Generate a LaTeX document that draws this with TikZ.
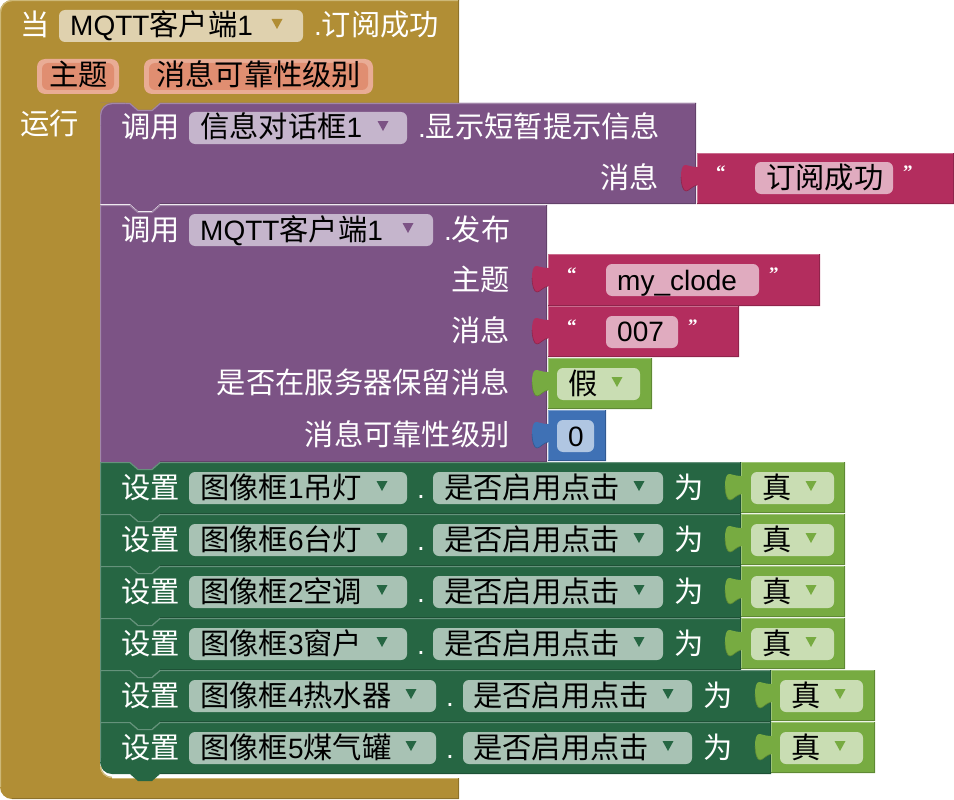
\documentclass[tikz,border=0pt]{standalone}
\usepackage{fontspec}
\setmainfont{Liberation Sans}
\newfontfamily\cjk[Scale=1.046]{Noto Sans CJK SC}
\newfontfamily\quotefont[BoldFont=*]{Liberation Serif Bold}
\newcommand{\zh}[1]{{\cjk #1}}

\definecolor{bronze}{HTML}{B18E35}
\definecolor{bronzelt}{HTML}{CDB877}
\definecolor{bronzedk}{HTML}{8E722A}
\definecolor{bronzefield}{HTML}{DFD1AE}
\definecolor{purple}{HTML}{7C5385}
\definecolor{purplelt}{HTML}{A286A9}
\definecolor{purpledk}{HTML}{63426A}
\definecolor{purplefield}{HTML}{C5B5CC}
\definecolor{rose}{HTML}{B32D5E}
\definecolor{roselt}{HTML}{CA6C8E}
\definecolor{rosedk}{HTML}{8F244B}
\definecolor{rosefield}{HTML}{E0ABBF}
\definecolor{leaf}{HTML}{77AB41}
\definecolor{leaflt}{HTML}{9DC477}
\definecolor{leafdk}{HTML}{5F8934}
\definecolor{leaffield}{HTML}{C9DDB3}
\definecolor{sky}{HTML}{3F71B5}
\definecolor{skylt}{HTML}{799DCD}
\definecolor{skydk}{HTML}{325A91}
\definecolor{skyfield}{HTML}{B0C6E2}
\definecolor{pine}{HTML}{266643}
\definecolor{pinelt}{HTML}{65927B}
\definecolor{pinedk}{HTML}{1E5136}
\definecolor{pinefield}{HTML}{A8C2B4}
\definecolor{param}{HTML}{E08E71}
\definecolor{paramlt}{HTML}{E9AC95}

\tikzset{
	txt/.style={inner sep=0pt, anchor=base west, font=\fontsize{28}{28}\selectfont, white},
	txtr/.style={txt, anchor=base east},
	fld/.style={txt, black},
	quot/.style={inner sep=0pt, anchor=base west, font=\quotefont\fontsize{19}{19}\selectfont, white},
}

% x1, y1, x2, y2, colour
\newcommand{\stackblock}[5]{
	\fill[#5] (#1,#2) -- (#1+30,#2) -- (#1+38,#2+7) -- (#1+52,#2+7) -- (#1+60,#2) -- (#3,#2) -- (#3,#4)
		-- (#1+60,#4) -- (#1+52,#4+7) -- (#1+38,#4+7) -- (#1+30,#4) -- (#1,#4) -- cycle;
	\draw[#5lt, line width=1.2pt] (#1+.6,#4) -- (#1+.6,#2+.6) -- (#1+30,#2+.6) -- (#1+38,#2+7.6) -- (#1+52,#2+7.6) -- (#1+60,#2+.6) -- (#3,#2+.6);
	\draw[#5dk, line width=1.2pt] (#3-.6,#2) -- (#3-.6,#4-.6) -- (#1+60,#4-.6);
}
% x1, y1, x2, y2, colour
\newcommand{\valueblock}[5]{
	\fill[#5] (#1,#2) -- (#3,#2) -- (#3,#4) -- (#1,#4) -- (#1,#2+32)
		.. controls (#1-5,#2+33) and (#1-8,#2+38) .. (#1-11,#2+38)
		.. controls (#1-14,#2+38) and (#1-16,#2+31) .. (#1-16,#2+24)
		.. controls (#1-16,#2+18) and (#1-15,#2+12) .. (#1-12,#2+12)
		.. controls (#1-9,#2+12) and (#1-6,#2+14) .. (#1,#2+14) -- cycle;
	\draw[#5lt, line width=1.2pt] (#1+.6,#2+14) -- (#1+.6,#2+.6) -- (#3,#2+.6);
	\draw[#5lt, line width=1.2pt] (#1+.6,#2+32) -- (#1+.6,#4);
	\draw[#5dk, line width=1.2pt] (#3-.6,#2) -- (#3-.6,#4-.6) -- (#1,#4-.6);
	\draw[#5dk, line width=.6pt] (#1,#2+32)
		.. controls (#1-5,#2+33) and (#1-8,#2+38) .. (#1-11,#2+38)
		.. controls (#1-14,#2+38) and (#1-16,#2+31) .. (#1-16,#2+24);
}
% x1, y1, x2, colour
\newcommand{\fieldbox}[4]{
	\fill[#4, rounded corners=6pt] (#1,#2) rectangle (#3,#2+32);
}
% x, y, colour
\newcommand{\arrowtri}[3]{
	\fill[#3] (#1-5.5,#2-5) -- (#1+5.5,#2-5) -- (#1,#2+5) -- cycle;
}

\begin{document}
\begin{tikzpicture}[x=1pt, y=-1pt]
	\useasboundingbox (0,0) rectangle (954,800);

	%Rahmen
	\fill[bronze] (0,12) arc[start angle=180, end angle=270, radius=12] -- (459,0) -- (459,103) -- (112,103)
		arc[start angle=270, end angle=180, radius=12] -- (100,766) arc[start angle=180, end angle=90, radius=12]
		-- (459,778) -- (459,799) -- (12,799) arc[start angle=90, end angle=180, radius=12] -- cycle;
	\fill[bronze] (125,102) rectangle (165,112); %Kerbe oben
	\draw[bronzelt, line width=1.2pt] (.6,787) -- (.6,12) arc[start angle=180, end angle=270, radius=11.4] -- (459,.6);
	\draw[bronzelt, line width=1.2pt] (112,778.6) -- (459,778.6);
	\draw[bronzedk, line width=1.2pt] (458.4,0) -- (458.4,103);
	\draw[bronzedk, line width=1.2pt] (458.4,778) -- (458.4,798.4) -- (12,798.4);

	\node[txt] (when) at (20,36) {\zh{当}};
	\fieldbox{59}{10}{303}{bronzefield}
	\node[fld] (clienta) at (70,36) {MQTT\zh{客户端}1};
	\arrowtri{277}{24}{bronze}
	\node[txt] (subok) at (314,36) {.\zh{订阅成功}};

	\fill[paramlt, rounded corners=8pt] (37,59) rectangle (119,94);
	\fill[param, rounded corners=6pt] (42,63) rectangle (114,90);
	\fill[paramlt, rounded corners=8pt] (144,59) rectangle (373,94);
	\fill[param, rounded corners=6pt] (149,63) rectangle (368,90);
	\node[fld] (topica) at (49,86) {\zh{主题}};
	\node[fld] (qosa) at (156,86) {\zh{消息可靠性级别}};
	\node[txt] (run) at (20,135) {\zh{运行}};

	%Dialog
	\stackblock{100}{103}{696}{204}{purple}
	\fill[bronze] (100,103) rectangle (112,115);
	\fill[purple] (112,103) arc[start angle=270, end angle=180, radius=12] -- (100,125) -- (125,125) -- (125,103) -- cycle;
	\draw[purplelt, line width=1.2pt] (100.6,125) -- (100.6,115) arc[start angle=180, end angle=270, radius=11.4] -- (125,103.6);
	\node[txt] (calla) at (121,137) {\zh{调用}};
	\fieldbox{189}{112}{407}{purplefield}
	\node[fld] (dialog) at (200,137) {\zh{信息对话框}1};
	\arrowtri{383}{126}{purple}
	\node[txt] (toast) at (418,137) {.\zh{显示短暂提示信息}};
	\node[txtr] (msga) at (659,188) {\zh{消息}};
	\valueblock{697}{153}{954}{204}{rose}
	\node[quot] (qa) at (716,178) {“};
	\fieldbox{755}{162}{893}{rosefield}
	\node[fld] (okstr) at (766,188) {\zh{订阅成功}};
	\node[quot] (qb) at (903,178) {”};

	%Publish
	\stackblock{100}{205}{547}{462}{purple}
	\node[txt] (callb) at (121,240) {\zh{调用}};
	\fieldbox{189}{214}{433}{purplefield}
	\node[fld] (clientb) at (200,240) {MQTT\zh{客户端}1};
	\arrowtri{408}{228}{purple}
	\node[txt] (pub) at (444,240) {.\zh{发布}};

	\node[txtr] (topicb) at (510,290) {\zh{主题}};
	\valueblock{548}{254}{820}{306}{rose}
	\node[quot] (qc) at (567,280) {“};
	\fieldbox{606}{264}{759}{rosefield}
	\node[fld] (clode) at (617,290) {my\_clode};
	\node[quot] (qd) at (769,280) {”};

	\node[txtr] (msgb) at (510,341) {\zh{消息}};
	\valueblock{548}{306}{739}{357}{rose}
	\node[quot] (qe) at (567,332) {“};
	\fieldbox{606}{316}{678}{rosefield}
	\node[fld] (seven) at (617,341) {007};
	\node[quot] (qf) at (688,332) {”};

	\node[txtr] (keep) at (510,393) {\zh{是否在服务器保留消息}};
	\valueblock{548}{358}{652}{409}{leaf}
	\fieldbox{557}{368}{640}{leaffield}
	\node[fld] (no) at (568,394) {\zh{假}};
	\arrowtri{617}{382}{leaf}

	\node[txtr] (qosb) at (510,445) {\zh{消息可靠性级别}};
	\valueblock{548}{410}{606}{461}{sky}
	\fieldbox{557}{420}{594}{skyfield}
	\node[fld] (zero) at (568,446) {0};

	%Bildfelder
	\foreach \y/\name/\mylabel in {462/ia/\zh{图像框}1\zh{吊灯}, 514/ib/\zh{图像框}6\zh{台灯}, 566/ic/\zh{图像框}2\zh{空调}, 618/id/\zh{图像框}3\zh{窗户}} {
		\stackblock{100}{\y}{741}{\y+52}{pine}
		\node[txt] (set\name) at (121,\y+36) {\zh{设置}};
		\fieldbox{189}{\y+10}{407}{pinefield}
		\node[fld] (img\name) at (200,\y+36) {\mylabel};
		\arrowtri{382}{\y+24}{pine}
		\node[txt] (dot\name) at (417,\y+36) {.};
		\fieldbox{433}{\y+10}{663}{pinefield}
		\node[fld] (on\name) at (444,\y+36) {\zh{是否启用点击}};
		\arrowtri{639}{\y+24}{pine}
		\node[txt] (to\name) at (674,\y+36) {\zh{为}};
		\valueblock{741}{\y}{845}{\y+51}{leaf}
		\fieldbox{751}{\y+10}{834}{leaffield}
		\node[fld] (yes\name) at (762,\y+36) {\zh{真}};
		\arrowtri{811}{\y+24}{leaf}
	}
	\foreach \y/\name/\mylabel in {670/ie/\zh{图像框}4\zh{热水器}, 722/if/\zh{图像框}5\zh{煤气罐}} {
		\stackblock{100}{\y}{771}{\y+52}{pine}
		\node[txt] (set\name) at (121,\y+36) {\zh{设置}};
		\fieldbox{189}{\y+10}{436}{pinefield}
		\node[fld] (img\name) at (200,\y+36) {\mylabel};
		\arrowtri{411}{\y+24}{pine}
		\node[txt] (dot\name) at (446,\y+36) {.};
		\fieldbox{463}{\y+10}{692}{pinefield}
		\node[fld] (on\name) at (473,\y+36) {\zh{是否启用点击}};
		\arrowtri{668}{\y+24}{pine}
		\node[txt] (to\name) at (703,\y+36) {\zh{为}};
		\valueblock{771}{\y}{875}{\y+51}{leaf}
		\fieldbox{780}{\y+10}{863}{leaffield}
		\node[fld] (yes\name) at (791,\y+36) {\zh{真}};
		\arrowtri{840}{\y+24}{leaf}
	}

	%untere Ecke
	\fill[white] (100,758) rectangle (113,778);
	\fill[bronze] (100,766) arc[start angle=180, end angle=90, radius=12] -- (100,778) -- cycle;
	\fill[pine] (100,758) -- (100,762) arc[start angle=180, end angle=90, radius=12] -- (113,774) -- (113,758) -- cycle;
	\draw[pinelt, line width=1.2pt] (100.6,758) -- (100.6,762);
	\draw[bronzelt, line width=1.2pt] (100.6,766) arc[start angle=180, end angle=90, radius=11.4];
\end{tikzpicture}
\end{document}
